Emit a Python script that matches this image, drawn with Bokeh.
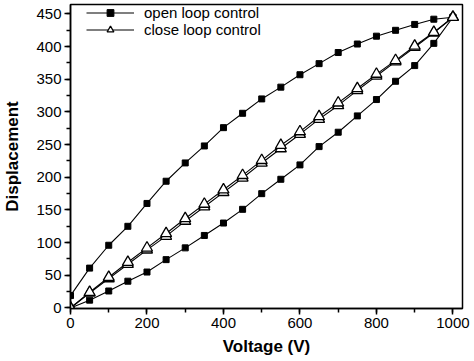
from bokeh.plotting import figure
from bokeh.models import Range1d, SingleIntervalTicker, Legend, LegendItem
from bokeh.embed import file_html
from bokeh.resources import INLINE

voltage = [0, 50, 100, 150, 200, 250, 300, 350, 400, 450, 500,
           550, 600, 650, 700, 750, 800, 850, 900, 950, 1000]

open_loop_increasing = [0, 12, 26, 41, 55, 74, 92, 111, 130, 151, 175,
                        197, 219, 247, 269, 294, 319, 347, 371, 405, 445]
open_loop_decreasing = [19, 61, 96, 125, 160, 194, 222, 248, 276, 298, 320,
                        338, 357, 374, 391, 404, 416, 425, 434, 442, 445]

close_loop_increasing = [0, 23, 45, 67, 89, 110, 133, 155, 177, 199, 222,
                         244, 266, 289, 310, 333, 355, 377, 399, 421, 445]
close_loop_decreasing = [0, 24, 47, 70, 92, 114, 137, 159, 181, 203, 226,
                         249, 270, 293, 314, 336, 358, 379, 401, 422, 445]

labels = ["open loop control", "close loop control"]

FONT = "Liberation Sans"

p = figure(width=474, height=361, output_backend="svg", toolbar_location=None,
           x_range=Range1d(0, 1025), y_range=Range1d(-0.8, 464.5),
           min_border_left=69, min_border_right=12, min_border_top=4,
           min_border_bottom=53)

p.xgrid.visible = False
p.ygrid.visible = False
p.outline_line_color = "black"
p.outline_line_width = 1.5
p.background_fill_color = "white"
p.border_fill_color = "white"

p.xaxis.ticker = SingleIntervalTicker(interval=200, num_minor_ticks=2)
p.yaxis.ticker = SingleIntervalTicker(interval=50, num_minor_ticks=2)
for ax in (p.xaxis[0], p.yaxis[0]):
    ax.axis_line_width = 1.5
    ax.major_tick_line_width = 1.5
    ax.minor_tick_line_width = 1.5
    ax.major_tick_in = 0
    ax.major_tick_out = 6
    ax.minor_tick_in = 0
    ax.minor_tick_out = 4
    ax.major_label_text_font = FONT
    ax.major_label_text_font_size = "15px"
    ax.major_label_text_color = "black"
    ax.axis_label_text_font = FONT
    ax.axis_label_text_font_size = "17px"
    ax.axis_label_text_font_style = "bold"
    ax.axis_label_text_color = "black"
    ax.major_label_standoff = 3
p.xaxis.axis_label = "Voltage (V)"
p.yaxis.axis_label = "Displacement"
p.xaxis.axis_label_standoff = 6
p.yaxis.axis_label_standoff = 11

# open loop
l1 = p.line(voltage, open_loop_increasing, line_color="black", line_width=1.1)
l2 = p.line(voltage, open_loop_decreasing, line_color="black", line_width=1.1)
# close loop
l3 = p.line(voltage, close_loop_increasing, line_color="black", line_width=1.1)
l4 = p.line(voltage, close_loop_decreasing, line_color="black", line_width=1.1)

s1 = p.scatter(voltage, open_loop_increasing, marker="square", size=6,
               fill_color="black", line_color="black")
s2 = p.scatter(voltage, open_loop_decreasing, marker="square", size=6,
               fill_color="black", line_color="black")
s3 = p.scatter(voltage, close_loop_increasing, marker="triangle", size=11,
               fill_color="white", line_color="black", line_width=1.3)
s4 = p.scatter(voltage, close_loop_decreasing, marker="triangle", size=11,
               fill_color="white", line_color="black", line_width=1.3)

legend = Legend(items=[LegendItem(label=labels[0], renderers=[l1, s1]),
                       LegendItem(label=labels[1], renderers=[l3, s3])],
                location=(16, 270), padding=0, margin=0, spacing=0,
                glyph_width=48, glyph_height=17, label_height=17,
                label_standoff=10, label_text_font=FONT,
                label_text_font_size="15px", label_text_color="black",
                background_fill_alpha=0, border_line_alpha=0)
p.add_layout(legend, "center")

open("out.html", "w").write(file_html(p, INLINE))
